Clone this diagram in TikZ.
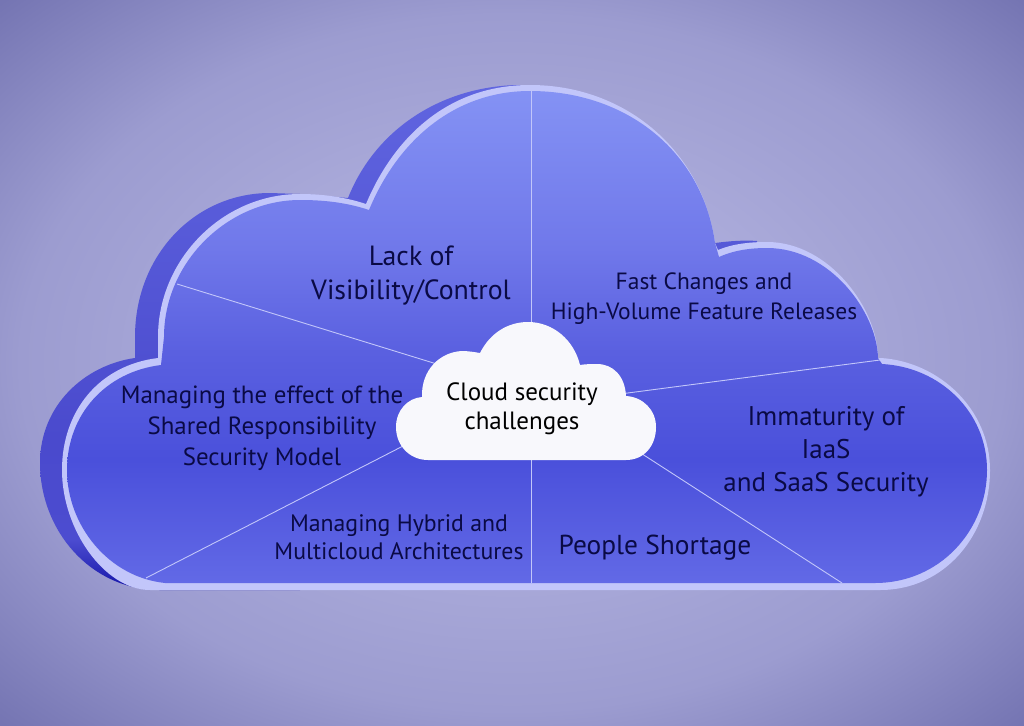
\documentclass[tikz,border=0pt]{standalone}
\usepackage{fontspec}
\setmainfont{PT Sans}
\definecolor{bginner}{HTML}{ACACDB}
\definecolor{bgmid}{HTML}{9C9CD0}
\definecolor{bgouter}{HTML}{7474B2}
\definecolor{rimlight}{HTML}{C2C6FA}
\definecolor{hubwhite}{HTML}{F8F8FC}
\definecolor{labelnavy}{HTML}{0A0A45}
\definecolor{frontA}{HTML}{6269E6}
\definecolor{frontB}{HTML}{4A50DB}
\definecolor{frontC}{HTML}{5A60E0}
\definecolor{frontD}{HTML}{7078EA}
\definecolor{frontE}{HTML}{8492F4}
\definecolor{backA}{HTML}{1414A8}
\definecolor{backB}{HTML}{4C4CD0}
\definecolor{backC}{HTML}{4A4ACD}
\definecolor{backD}{HTML}{6065E0}
\pgfdeclareradialshading{bgshade}{\pgfpoint{0bp}{0bp}}{color(0bp)=(bginner); color(12bp)=(bginner); color(24bp)=(bgmid); color(35.5bp)=(bgouter); color(50bp)=(bgouter)}
\pgfdeclareverticalshading{frontshade}{100bp}{color(0bp)=(frontA); color(25bp)=(frontA); color(37.5bp)=(frontB); color(48.5bp)=(frontC); color(59bp)=(frontD); color(75bp)=(frontE); color(100bp)=(frontE)}
\pgfdeclareverticalshading{backshade}{100bp}{color(0bp)=(backA); color(25bp)=(backA); color(30bp)=(backB); color(40bp)=(backC); color(75bp)=(backD); color(100bp)=(backD)}
\tikzset{
	spoke/.style={draw=rimlight,line width=0.9pt},
	lbl/.style={align=center,text=labelnavy,inner sep=0pt}
}
\begin{document}
\begin{tikzpicture}[x=1pt,y=-1pt]
	\useasboundingbox (0,0) rectangle (1024,725);
	\shade[shading=bgshade] (0,0) rectangle (1024,725);

	% back of the cloud
	\shade[shading=backshade] (160,590) .. controls (90,590) and (40,530) .. (40,463)
		.. controls (40,405) and (85,365) .. (135,358) -- (135,337)
		.. controls (135,255) and (195,193) .. (270,193) -- (300,194) -- (348,198)
		.. controls (375,130) and (440,87) .. (517,85) -- (530,85) -- (715,243)
		.. controls (730,241) and (745,240) .. (757,241) -- (757,400) -- (300,590) -- cycle;

	% light rim
	\fill[rimlight] (150,590) -- (880,590) .. controls (945,590) and (990,535) .. (990,470)
		.. controls (990,410) and (940,362) .. (881,358) -- (878,358)
		.. controls (878,310) and (830,242) .. (767,242)
		.. controls (745,242) and (730,245) .. (718,250) -- (715,243)
		.. controls (702,150) and (625,85) .. (530,85)
		.. controls (450,85) and (395,135) .. (366,204)
		.. controls (345,197) and (322,194) .. (300,194)
		.. controls (222,194) and (158,260) .. (158,337) -- (158,358)
		.. controls (100,365) and (62,410) .. (62,470)
		.. controls (62,530) and (105,590) .. (150,590) -- cycle;

	% front of the cloud
	\shade[shading=frontshade] (165,583) -- (875,583) .. controls (940,583) and (987,530) .. (987,470)
		.. controls (987,412) and (940,367) .. (882,364) -- (878,358)
		.. controls (877,312) and (830,248) .. (767,248)
		.. controls (745,248) and (730,252) .. (719,257) -- (715,243)
		.. controls (702,150) and (625,91) .. (530,91)
		.. controls (455,91) and (398,140) .. (369,210)
		.. controls (345,202) and (322,200) .. (300,200)
		.. controls (228,200) and (164,262) .. (164,337) -- (161,365)
		.. controls (105,372) and (67,415) .. (67,470)
		.. controls (67,525) and (108,577) .. (165,583) -- cycle;

	\coordinate (rimtop) at (531,91);
	\coordinate (rimleft) at (177,284);
	\coordinate (rimlow) at (146,578);
	\coordinate (rimbottom) at (531,583);
	\coordinate (rimfoot) at (842,583);
	\coordinate (rimright) at (880,360);
	\coordinate (hubtop) at (531,330);
	\coordinate (hubleft) at (440,365);
	\coordinate (hublow) at (405,445);
	\coordinate (hubbottom) at (531,455);
	\coordinate (hubfoot) at (636,450);
	\coordinate (hubright) at (620,394);

	\draw[spoke] (rimtop) -- (hubtop);
	\draw[spoke] (rimleft) -- (hubleft);
	\draw[spoke] (rimlow) -- (hublow);
	\draw[spoke] (rimbottom) -- (hubbottom);
	\draw[spoke] (rimfoot) -- (hubfoot);
	\draw[spoke] (rimright) -- (hubright);

	% small cloud
	\fill[hubwhite] (428,460) .. controls (410,460) and (396,446) .. (396,427)
		.. controls (396,410) and (408,398) .. (422,397)
		.. controls (421,370) and (440,352) .. (462,351)
		.. controls (468,351) and (474,352) .. (480,353)
		.. controls (490,333) and (508,322) .. (528,322)
		.. controls (553,322) and (574,340) .. (580,365)
		.. controls (586,364) and (592,364) .. (597,364)
		.. controls (613,364) and (625,376) .. (626,396)
		.. controls (643,397) and (656,410) .. (656,427)
		.. controls (656,446) and (644,460) .. (626,460) -- cycle;

	\node[lbl,font=\fontsize{27.8}{34}\selectfont] (lack) at (411,275.5) {Lack of\\Visibility/Control};
	\node[lbl,font=\fontsize{23.5}{30}\selectfont] (fast) at (704,299) {Fast Changes and\\High-Volume Feature Releases};
	\node[lbl,font=\fontsize{24.9}{31}\selectfont] (shared) at (262,428) {Managing the effect of the\\Shared Responsibility\\Security Model};
	\node[lbl,font=\fontsize{23.8}{28}\selectfont] (hybrid) at (399,537) {Managing Hybrid and\\Multicloud Architectures};
	\node[lbl,font=\fontsize{27.4}{28}\selectfont] (people) at (655,548) {People Shortage};
	\node[lbl,font=\fontsize{27}{33}\selectfont] (iaas) at (826,451.5) {Immaturity of\\IaaS\\and SaaS Security};
	\node[lbl,text=black,font=\fontsize{25}{29}\selectfont] (hub) at (522,409) {Cloud security\\challenges};
\end{tikzpicture}
\end{document}
